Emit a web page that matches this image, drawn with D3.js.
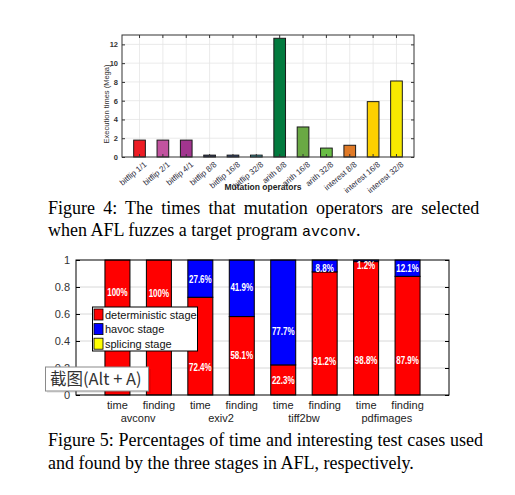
<!DOCTYPE html>
<html><head><meta charset="utf-8">
<script src="https://cdn.jsdelivr.net/npm/d3@7"></script>
<style>body{margin:0;background:#fff}svg{display:block}</style>
</head><body>
<svg id="c" width="515" height="495"></svg>
<script>
// ---------- Figure 4 data ----------
const operators = ["bitflip 1/1","bitflip 2/1","bitflip 4/1","bitflip 8/8","bitflip 16/8","bitflip 32/8",
  "arith 8/8","arith 16/8","arith 32/8","interest 8/8","interest 16/8","interest 32/8"];
const execTimes = [1.8,1.8,1.8,0.2,0.2,0.2,12.65,3.2,0.95,1.25,5.9,8.1];
const operatorColors = ["#ed1c24","#c2539f","#a2358f","#2b3566","#2f4b8e","#3db6c6",
  "#027a3e","#6aa944","#69bd45","#e07a27","#fdd000","#f7e900"];
const fig4Ticks = [0,2,4,6,8,10,12];

// ---------- Figure 5 data ----------
const programs = ["avconv","exiv2","tiff2bw","pdfimages"];
const measures = ["time","finding"];
const deterministic = [1.0,1.0,0.724,0.581,0.223,0.912,0.988,0.879];
const havoc = [0,0,0.276,0.419,0.777,0.088,0.012,0.121];
const splicing = [0,0,0,0,0,0,0,0];
const detLabels = ["100%","100%","72.4%","58.1%","22.3%","91.2%","98.8%","87.9%"];
const havocLabels = ["","","27.6%","41.9%","77.7%","8.8%","1.2%","12.1%"];
const detLabelAt = [0.758,0.75,0.202,0.291,0.111,0.247,0.252,0.252];
const havocLabelAt = [0,0,0.852,0.793,0.467,0.936,0.958,0.939];
const fig5Ticks = [0,0.2,0.4,0.6,0.8,1];
const stages = ["deterministic stage","havoc stage","splicing stage"];
const stageColors = ["#ff0000","#0000ff","#ffff00"];

const svg = d3.select("#c");
svg.append("rect").attr("width",515).attr("height",495).attr("fill","#fff");

// ================= Figure 4 =================
(function(){
  const L=122,R=414,T=35,B=157;
  const x=d3.scaleBand().domain(operators).range([L,R]).padding(0.5);
  const y=d3.scaleLinear().domain([0,13]).range([B,T]);
  const g=svg.append("g");
  g.selectAll(".vg").data(operators).join("line")
    .attr("x1",d=>x(d)+x.bandwidth()/2).attr("x2",d=>x(d)+x.bandwidth()/2)
    .attr("y1",T).attr("y2",B).attr("stroke","#e4e4e4").attr("stroke-width",0.8);
  g.selectAll(".hg").data(fig4Ticks.slice(1)).join("line")
    .attr("x1",L).attr("x2",R).attr("y1",d=>y(d)).attr("y2",d=>y(d))
    .attr("stroke","#e4e4e4").attr("stroke-width",0.8);
  g.selectAll(".bar").data(operators).join("rect")
    .attr("x",d=>x(d)).attr("width",x.bandwidth())
    .attr("y",(d,i)=>y(execTimes[i])).attr("height",(d,i)=>B-y(execTimes[i]))
    .attr("fill",(d,i)=>operatorColors[i]).attr("stroke","#1a1a1a").attr("stroke-width",1);
  g.append("rect").attr("x",L).attr("y",T).attr("width",R-L).attr("height",B-T)
    .attr("fill","none").attr("stroke","#333").attr("stroke-width",1);
  const ya=g.append("g").attr("transform",`translate(${L},0)`)
    .call(d3.axisLeft(y).tickValues(fig4Ticks).tickSize(-3).tickPadding(4));
  ya.select(".domain").remove();
  ya.selectAll("text").attr("font-family","Liberation Sans, Arial").attr("font-size",7.5)
    .attr("font-weight","bold").attr("fill","#333");
  ya.selectAll("line").attr("stroke","#333");
  const yr=g.append("g").attr("transform",`translate(${R},0)`).call(d3.axisRight(y).tickValues(fig4Ticks).tickSize(-3).tickFormat(""));
  yr.select(".domain").remove(); yr.selectAll("line").attr("stroke","#333");
  const xb=g.append("g").attr("transform",`translate(0,${B})`).call(d3.axisBottom(x).tickSize(-3).tickFormat(""));
  xb.select(".domain").remove(); xb.selectAll("line").attr("stroke","#333");
  const xt=g.append("g").attr("transform",`translate(0,${T})`).call(d3.axisTop(x).tickSize(-3).tickFormat(""));
  xt.select(".domain").remove(); xt.selectAll("line").attr("stroke","#333");
  g.selectAll(".xl").data(operators).join("text")
    .attr("transform",d=>`translate(${x(d)+x.bandwidth()/2+4},${B+4}) rotate(-40)`)
    .attr("text-anchor","end").attr("dominant-baseline","hanging")
    .attr("font-family","Liberation Sans, Arial").attr("font-size",8)
    .attr("fill","#2a2a3a").text(d=>d);
  g.append("text").attr("x",263).attr("y",190).attr("text-anchor","middle")
    .attr("font-family","Liberation Sans, Arial").attr("font-size",8.5).attr("font-weight","bold")
    .attr("fill","#222").text("Mutation operators");
  g.append("text").attr("transform","translate(109,104) rotate(-90)").attr("text-anchor","middle")
    .attr("font-family","Liberation Sans, Arial").attr("font-size",7.5).attr("fill","#333")
    .text("Execution times (Mega)");
})();

// ================= captions =================
function caption(lines, y0, lh){
  lines.forEach((ln,i)=>{
    const t=svg.append("text").attr("x",48).attr("y",y0+i*lh)
      .attr("font-family","Liberation Serif, Times New Roman, serif").attr("font-size",18).attr("fill","#000");
    ln.parts.forEach(p=>{
      const ts=t.append("tspan").text(p.t);
      if(p.mono) ts.attr("font-family","Liberation Mono, monospace").attr("font-size",15);
    });
    if(ln.justify){
      const nat=t.node().getComputedTextLength();
      const txt=ln.parts.map(p=>p.t).join("");
      const n=(txt.match(/ /g)||[]).length;
      t.attr("word-spacing",(ln.justify-nat)/n);
    }
  });
}
caption([
  {parts:[{t:"Figure 4:  The times that mutation operators are selected"}],justify:435},
  {parts:[{t:"when AFL fuzzes a target program "},{t:"avconv",mono:true},{t:"."}]}
],214,22);
caption([
  {parts:[{t:"Figure 5: Percentages of time and interesting test cases used"}],justify:435},
  {parts:[{t:"and found by the three stages in AFL, respectively."}]}
],446,22.5);

// ================= Figure 5 =================
(function(){
  const L=76,R=449,T=260,B=395;
  const x=d3.scaleLinear().domain([0,9]).range([L,R]);
  const y=d3.scaleLinear().domain([0,1]).range([B,T]);
  const bw=25;
  const g=svg.append("g");
  const idx=d3.range(deterministic.length);
  g.selectAll(".hg").data(fig5Ticks.slice(1,-1)).join("line")
    .attr("x1",L).attr("x2",R).attr("y1",d=>y(d)).attr("y2",d=>y(d))
    .attr("stroke","#d8d8d8").attr("stroke-width",1);
  const seg=(vals,base,color)=>g.selectAll(null).data(idx.filter(i=>vals[i]>0)).join("rect")
    .attr("x",i=>x(i+1)-bw/2).attr("width",bw)
    .attr("y",i=>y(base(i)+vals[i])).attr("height",i=>y(base(i))-y(base(i)+vals[i]))
    .attr("fill",color).attr("stroke","#000").attr("stroke-width",1);
  seg(deterministic,()=>0,stageColors[0]);
  seg(havoc,i=>deterministic[i],stageColors[1]);
  seg(splicing,i=>deterministic[i]+havoc[i],stageColors[2]);
  const lab=(labels,at)=>g.selectAll(null).data(idx.filter(i=>labels[i])).join("text")
    .attr("x",i=>x(i+1)).attr("y",i=>y(at[i])).attr("text-anchor","middle")
    .attr("dominant-baseline","central").attr("font-family","Liberation Sans, Arial")
    .attr("font-size",10).attr("font-weight","bold").attr("fill","#fff").text(i=>labels[i])
    .each(function(){
      const w=this.getComputedTextLength();
      d3.select(this).attr("textLength",w*0.8).attr("lengthAdjust","spacingAndGlyphs");
    });
  lab(detLabels,detLabelAt);
  lab(havocLabels,havocLabelAt);
  g.append("rect").attr("x",L).attr("y",T).attr("width",R-L).attr("height",B-T)
    .attr("fill","none").attr("stroke","#000").attr("stroke-width",1);
  const ya=g.append("g").attr("transform",`translate(${L},0)`)
    .call(d3.axisLeft(y).tickValues(fig5Ticks).tickSize(-4).tickPadding(6).tickFormat(d3.format("~g")));
  ya.select(".domain").remove();
  ya.selectAll("line").attr("stroke","#000");
  ya.selectAll("text").attr("font-family","Liberation Sans, Arial").attr("font-size",11).attr("fill","#333");
  const yr=g.append("g").attr("transform",`translate(${R},0)`)
    .call(d3.axisRight(y).tickValues(fig5Ticks).tickSize(-4).tickFormat(""));
  yr.select(".domain").remove(); yr.selectAll("line").attr("stroke","#000");
  g.selectAll(".xm").data(idx).join("text")
    .attr("x",i=>x(i+1)).attr("y",409).attr("text-anchor","middle")
    .attr("font-family","Liberation Sans, Arial").attr("font-size",11).attr("fill","#222")
    .text(i=>measures[i%2]);
  g.selectAll(".xp").data(programs).join("text")
    .attr("x",(d,j)=>(x(2*j+1)+x(2*j+2))/2).attr("y",422).attr("text-anchor","middle")
    .attr("font-family","Liberation Sans, Arial").attr("font-size",11).attr("fill","#222")
    .text(d=>d);
  const lg=g.append("g");
  lg.append("rect").attr("x",92.5).attr("y",307).attr("width",105).attr("height",44)
    .attr("fill","#fff").attr("stroke","#000").attr("stroke-width",1);
  stages.forEach((s,i)=>{
    lg.append("rect").attr("x",94).attr("y",309+i*14.6).attr("width",9).attr("height",11)
      .attr("fill",stageColors[i]).attr("stroke","#000").attr("stroke-width",0.8);
    lg.append("text").attr("x",105).attr("y",314.5+i*14.6).attr("dominant-baseline","central")
      .attr("font-family","Liberation Sans, Arial").attr("font-size",11).attr("fill","#111").text(s);
  });
})();

// screenshot tooltip overlay
(function(){
  const g=svg.append("g");
  g.append("rect").attr("x",47).attr("y",369).attr("width",104).attr("height",24).attr("fill","#000").attr("opacity",0.08);
  g.append("rect").attr("x",45.5).attr("y",367).attr("width",103).attr("height",24)
    .attr("fill","#fff").attr("stroke","#8a8a8a").attr("stroke-width",1);
  g.append("text").attr("x",50).attr("y",384.5)
    .attr("font-family","Noto Sans CJK SC, Noto Sans, sans-serif").attr("font-size",16.5).attr("fill","#333")
    .text("截图(Alt + A)");
})();
</script>
</body></html>
